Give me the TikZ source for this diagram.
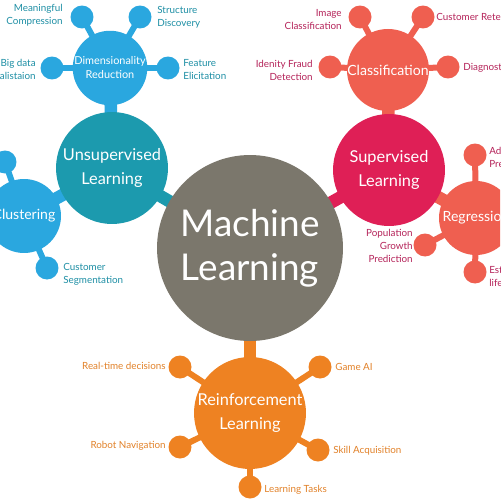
\documentclass[tikz,border=0pt]{standalone}
\usepackage{fontspec}
\setmainfont{Lato}
\usetikzlibrary{backgrounds}

\definecolor{mlgray}{HTML}{7B776C}
\definecolor{unsupteal}{HTML}{1C9AAE}
\definecolor{unsupblue}{HTML}{2AA7DF}
\definecolor{unsuptext}{HTML}{1E8FA5}
\definecolor{supred}{HTML}{DF1F56}
\definecolor{supcoral}{HTML}{EF5F50}
\definecolor{suptext}{HTML}{B5245A}
\definecolor{reorange}{HTML}{EE8222}
\definecolor{retext}{HTML}{E2822A}

\tikzset{
  bubble/.style={circle,inner sep=0pt,text=white,align=center},
  hub/.style={bubble,minimum size=3.72cm,fill=mlgray,font=\fontsize{21}{25}\selectfont},
  branch/.style={bubble,minimum size=2.24cm,font=\fontsize{9.3}{14}\selectfont},
  subhub/.style={bubble,minimum size=1.48cm,font=\fontsize{6.2}{8}\selectfont},
  leaf/.style={circle,inner sep=0pt,minimum size=0.46cm},
  lbl/.style={inner sep=0pt,font=\fontsize{5.6}{7.4}\selectfont},
  thick stem/.style={line width=0.25cm},
  thin stem/.style={line width=0.12cm},
}

\begin{document}
\begin{tikzpicture}[x=0.02cm,y=-0.02cm]
  \path[use as bounding box,clip] (0,0) rectangle (500,500);

  % main hub and branches
  \node[hub] (ml) at (250,248) {Machine\\Learning};
  \node[branch,fill=unsupteal] (unsup) at (112,168) {Unsupervised\\Learning};
  \node[branch,fill=supred] (sup) at (389,170) {Supervised\\Learning};
  \node[branch,fill=reorange] (rl) at (250,413) {Reinforcement\\Learning};

  % unsupervised side
  \node[subhub,fill=unsupblue] (dim) at (110,68) {Dimensionality\\Reduction};
  \node[subhub,fill=unsupblue,font=\fontsize{8}{9}\selectfont] (clu) at (24,216) {Clustering};
  \node[leaf,fill=unsupblue] (dim1) at (82,17) {};
  \node[leaf,fill=unsupblue] (dim2) at (140,17) {};
  \node[leaf,fill=unsupblue] (dim3) at (52,68) {};
  \node[leaf,fill=unsupblue] (dim4) at (168,68) {};
  \node[leaf,fill=unsupblue] (clu1) at (5,162) {};
  \node[leaf,fill=unsupblue] (clu2) at (47,268) {};

  \node[lbl,text=unsuptext,anchor=east,align=right] (ldim1) at (63,15) {Meaningful\\Compression};
  \node[lbl,text=unsuptext,anchor=west,align=left] (ldim2) at (157,17) {Structure\\Discovery};
  \node[lbl,text=unsuptext,anchor=east,align=right] (ldim3) at (36,69) {Big data\\Visualistaion};
  \node[lbl,text=unsuptext,anchor=west,align=left] (ldim4) at (183,70) {Feature\\Elicitation};
  \node[lbl,text=unsuptext,anchor=west,align=left] (lclu2) at (63,274) {Customer\\Segmentation};

  % supervised side
  \node[subhub,fill=supcoral,font=\fontsize{8}{9}\selectfont] (cla) at (388,70) {Classification};
  \node[subhub,fill=supcoral,font=\fontsize{8}{9}\selectfont] (reg) at (476,218) {Regression};
  \node[leaf,fill=supcoral] (cla1) at (360,17) {};
  \node[leaf,fill=supcoral] (cla2) at (423,17) {};
  \node[leaf,fill=supcoral] (cla3) at (330,67) {};
  \node[leaf,fill=supcoral] (cla4) at (448,67) {};
  \node[leaf,fill=supcoral] (reg1) at (475,155) {};
  \node[leaf,fill=supcoral] (reg2) at (425,245) {};
  \node[leaf,fill=supcoral] (reg3) at (475,272) {};

  \node[lbl,text=suptext,anchor=east,align=right] (lcla1) at (342,20) {Image\\Classification};
  \node[lbl,text=suptext,anchor=west,align=left] (lcla2) at (436,17) {Customer Retention};
  \node[lbl,text=suptext,anchor=east,align=right] (lcla3) at (313,70) {Idenity Fraud\\Detection};
  \node[lbl,text=suptext,anchor=west,align=left] (lcla4) at (463,68) {Diagnostics};
  \node[lbl,text=suptext,anchor=west,align=left] (lreg1) at (489,157) {Advertising Popularity\\Prediction};
  \node[lbl,text=suptext,anchor=east,align=right] (lreg2) at (413,246) {Population\\Growth\\Prediction};
  \node[lbl,text=suptext,anchor=west,align=left] (lreg3) at (489,277) {Estimating\\life expectancy};

  % reinforcement side
  \node[leaf,fill=reorange] (rl1) at (180,367) {};
  \node[leaf,fill=reorange] (rl2) at (320,367) {};
  \node[leaf,fill=reorange] (rl3) at (180,447) {};
  \node[leaf,fill=reorange] (rl4) at (318,450) {};
  \node[leaf,fill=reorange] (rl5) at (250,487) {};

  \node[lbl,text=retext,anchor=east] (lrl1) at (166,366) {Real-time decisions};
  \node[lbl,text=retext,anchor=west] (lrl2) at (335,367) {Game AI};
  \node[lbl,text=retext,anchor=east] (lrl3) at (166,446) {Robot Navigation};
  \node[lbl,text=retext,anchor=west] (lrl4) at (333,451) {Skill Acquisition};
  \node[lbl,text=retext,anchor=west] (lrl5) at (264,490) {Learning Tasks};

  % stems
  \begin{scope}[on background layer]
    \fill[white] (0,0) rectangle (500,500);
    \draw[thick stem,unsupteal] (ml.center) -- (unsup.center);
    \draw[thick stem,supred] (ml.center) -- (sup.center);
    \draw[thick stem,reorange] (ml.center) -- (rl.center);
    \draw[thick stem,unsupblue] (unsup.center) -- (dim.center);
    \draw[thick stem,unsupblue] (unsup.center) -- (clu.center);
    \draw[thick stem,supcoral] (sup.center) -- (cla.center);
    \draw[thick stem,supcoral] (sup.center) -- (reg.center);
    \foreach \i in {1,...,4}
      \draw[thin stem,unsupblue] (dim.center) -- (dim\i.center);
    \foreach \i in {1,2}
      \draw[thin stem,unsupblue] (clu.center) -- (clu\i.center);
    \foreach \i in {1,...,4}
      \draw[thin stem,supcoral] (cla.center) -- (cla\i.center);
    \foreach \i in {1,...,3}
      \draw[thin stem,supcoral] (reg.center) -- (reg\i.center);
    \foreach \i in {1,...,5}
      \draw[thin stem,reorange] (rl.center) -- (rl\i.center);
  \end{scope}
\end{tikzpicture}
\end{document}
